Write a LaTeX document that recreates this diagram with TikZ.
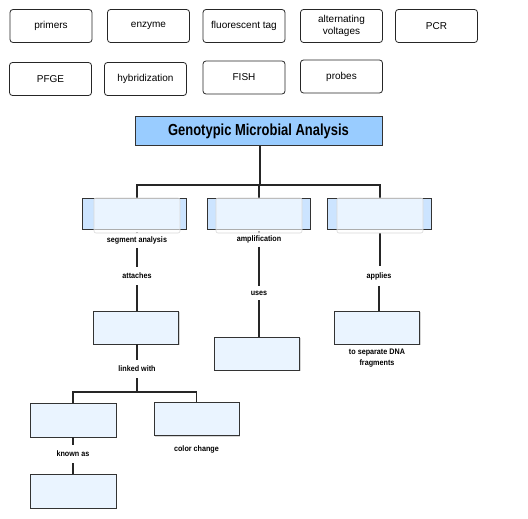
\documentclass[tikz,border=0pt]{standalone}
\usepackage{fontspec}
\setmainfont{Liberation Sans}
\newfontfamily\narrowfont[FakeStretch=0.9]{Liberation Sans}
\newfontfamily\titlefont[FakeStretch=0.81]{Liberation Sans}
\usetikzlibrary{positioning,shadows,calc}
\definecolor{titleblue}{HTML}{99CCFF}
\definecolor{frameblue}{HTML}{CCE4FF}
\definecolor{paleblue}{HTML}{EAF4FF}

\begin{document}
\begin{tikzpicture}[
    x=1pt, y=-1pt,
    wordbox/.style={rectangle, draw=black!85, line width=0.8pt, rounded corners=3pt, fill=white,
      minimum width=82pt, minimum height=33pt, inner sep=0pt, align=center,
      font=\fontsize{10}{12}\selectfont},
    titlebox/.style={rectangle, draw=black!80, line width=1pt, fill=titleblue,
      minimum width=247pt, minimum height=28pt, inner sep=0pt,
      font=\titlefont\bfseries\fontsize{16}{18}\selectfont},
    framebox/.style={rectangle, draw=black!80, line width=0.9pt, fill=frameblue,
      minimum width=104pt, minimum height=31pt, inner sep=0pt},
    overlay/.style={rectangle, draw=black!15, line width=0.6pt, rounded corners=2pt,
      fill=white, fill opacity=0.6, minimum width=86pt, minimum height=35pt, inner sep=0pt},
    answer/.style={rectangle, draw=black!80, line width=0.9pt, fill=paleblue,
      minimum width=85pt, minimum height=33pt, inner sep=0pt,
      drop shadow={shadow xshift=1.2pt, shadow yshift=-1.2pt, fill=black!20, opacity=0.8}},
    link/.style={font=\narrowfont\bfseries\fontsize{8}{11}\selectfont, fill=white,
      inner xsep=2pt, align=center},
    tree/.style={draw=black!85, line width=1.1pt}
  ]
  \useasboundingbox (0,0) rectangle (528,519);

  % Word bank
  \node[wordbox] (primers) at (51,26) {primers};
  \node[wordbox] (enzyme) at (148.5,26) {enzyme};
  \node[wordbox] (fluor) at (244,26) {fluorescent tag};
  \node[wordbox] (volts) at (341.5,26) {alternating\\voltages};
  \node[wordbox] (pcr) at (436.5,26) {PCR};
  \node[wordbox] (pfge) at (50.5,79) {PFGE};
  \node[wordbox] (hybrid) at (145.5,79) {hybridization};
  \node[wordbox] (fish) at (244,77.5) {FISH};
  \node[wordbox] (probes) at (341.5,76.5) {probes};

  % Concept map
  \node[titlebox] (title) at (258.5,131) {Genotypic Microbial Analysis};
  \coordinate (hub) at (260,185);

  \node[overlay, draw=none, fill=none] (seg) at (137,215.5) {};
  \node[overlay, draw=none, fill=none] (amp) at (259,215.5) {};
  \node[overlay, draw=none, fill=none] (sep) at (380,215.5) {};

  \node[link, inner ysep=4pt] (seglbl) at (137,240) {segment analysis};
  \node[link, inner ysep=4pt] (amplbl) at (259,239) {amplification};
  \node[link, inner ysep=6pt] (attaches) at (137,276) {attaches};
  \node[link, inner ysep=5pt] (uses) at (259,293) {uses};
  \node[link, inner ysep=6pt] (applies) at (379,276) {applies};

  \node[answer] (probe) at (136,327.5) {};
  \node[answer] (primer) at (257,353.5) {};
  \node[answer] (volt) at (377,327.5) {};
  \node[link, below=3pt of volt, inner ysep=1pt] (sepdna) {to separate DNA\\fragments};

  \node[link, inner ysep=6pt] (linked) at (137,369) {linked with};
  \coordinate (split) at (137,392);
  \node[answer, minimum width=86pt, minimum height=34pt] (tag) at (73,420) {};
  \node[answer] (enz) at (196.5,419) {};
  \node[link, inner ysep=1pt] (color) at (196.5,449) {color change};
  \node[link, inner ysep=6pt] (known) at (73,454) {known as};
  \node[answer, minimum width=86pt, minimum height=34pt] (fishbox) at (73,491) {};

  % Connectors
  \draw[tree] (title.south -| hub) -- (hub);
  \draw[tree] (seg.north) |- (hub) -| (sep.north);
  \draw[tree] (hub -| amp) -- (amp.north);
  \draw[tree] (seg) -- (seglbl);
  \draw[tree] (seglbl) -- (attaches);
  \draw[tree] (attaches) -- (attaches |- probe.north);
  \draw[tree] (amp) -- (amplbl);
  \draw[tree] (amplbl) -- (uses);
  \draw[tree] (uses) -- (uses |- primer.north);
  \draw[tree] (sep) -- (sep |- applies.north);
  \draw[tree] (applies) -- (applies |- volt.north);
  \draw[tree] (linked |- probe.south) -- (linked);
  \draw[tree] (linked) -- (split);
  \draw[tree] (tag.north) |- (split) -| (enz.north);
  \draw[tree] (tag) -- (known);
  \draw[tree] (known) -- (fishbox);

  % Boxes drawn over the connectors
  \node[framebox] (segframe) at (134,213.5) {};
  \node[framebox, minimum width=103pt] (ampframe) at (258.5,213.5) {};
  \node[framebox] (sepframe) at (379,213.5) {};
  \node[overlay] at (seg) {};
  \node[overlay] at (amp) {};
  \node[overlay] at (sep) {};
  \node[link, inner ysep=1pt] at (seglbl) {segment analysis};
  \node[link, inner ysep=1pt] at (amplbl) {amplification};
\end{tikzpicture}
\end{document}
